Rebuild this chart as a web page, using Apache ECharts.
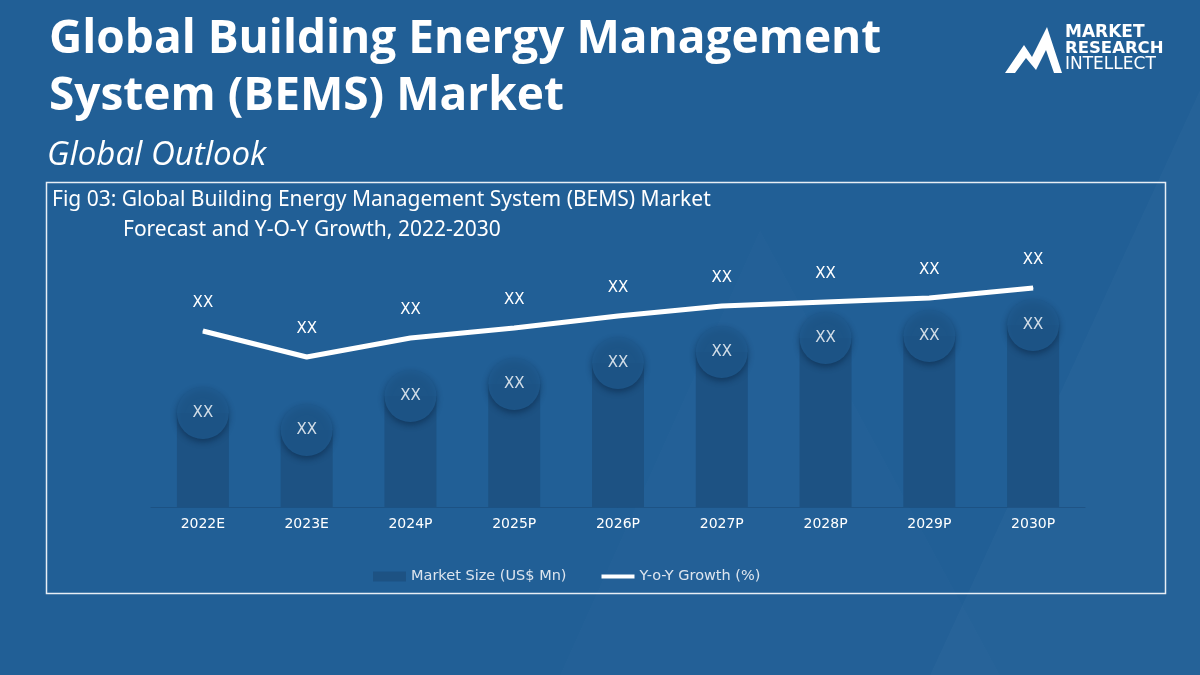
<!DOCTYPE html>
<html><head><meta charset="utf-8">
<script src="https://cdn.jsdelivr.net/npm/echarts@6/dist/echarts.min.js"></script>
<style>html,body{margin:0;padding:0;background:#215f96}#c{width:1200px;height:675px}</style>
</head><body><div id="c"></div>
<script>
var categories = ['2022E','2023E','2024P','2025P','2026P','2027P','2028P','2029P','2030P'];
var marketSize = [94, 77, 111, 123, 144, 155, 169, 171, 182];
var yoyGrowth = [176, 150, 169, 179, 191, 201, 205, 209, 219];
var valueLabels = ['XX','XX','XX','XX','XX','XX','XX','XX','XX'];
var growthLabels = ['XX','XX','XX','XX','XX','XX','XX','XX','XX'];

var chart = echarts.init(document.getElementById('c'));
var fontTitle = '"Open Sans", sans-serif';
var fontWide = '"DejaVu Sans", sans-serif';
chart.setOption({
  backgroundColor: '#215f96',
  animation: false,
  graphic: [
    {type:'polygon', silent:true, z:0, shape:{points:[[560,675],[760,230],[1000,675]]}, style:{fill:'rgba(255,255,255,0.012)'}},
    {type:'polygon', silent:true, z:0, shape:{points:[[930,675],[1200,90],[1200,675]]}, style:{fill:'rgba(255,255,255,0.02)'}},
    {type:'text', left:49, top:17, style:{text:'Global Building Energy Management', fill:'#fff', font:'bold 46px ' + fontTitle}},
    {type:'text', left:49, top:74, style:{text:'System (BEMS) Market', fill:'#fff', font:'bold 46px ' + fontTitle}},
    {type:'text', left:47, top:139, style:{text:'Global Outlook', fill:'#fff', font:'italic 33px ' + fontTitle}},
    {type:'rect', silent:true, shape:{x:46.5, y:182.5, width:1119, height:411}, style:{fill:'none', stroke:'#e8eef5', lineWidth:1.5}},
    {type:'text', left:52, top:190, style:{text:'Fig 03: Global Building Energy Management System (BEMS) Market', fill:'#fff', font:'21px "Noto Sans", sans-serif'}},
    {type:'text', left:123, top:220, style:{text:'Forecast and Y-O-Y Growth, 2022-2030', fill:'#fff', font:'21px "Noto Sans", sans-serif'}},
    {type:'polygon', silent:true, shape:{points:[[1005,73],[1024,45],[1032,57],[1047,27],[1062,73],[1054,73],[1046,50],[1036,70],[1026,58],[1015,73]]}, style:{fill:'#fff'}},
    {type:'text', left:1065, top:24, style:{text:'MARKET', fill:'#fff', font:'bold 17px ' + fontWide}},
    {type:'text', left:1065, top:40, style:{text:'RESEARCH', fill:'#fff', font:'bold 16.5px ' + fontWide}},
    {type:'text', left:1065, top:56, style:{text:'INTELLECT', fill:'#fff', font:'17px ' + fontWide}}
  ],
  grid: {left:151, width:934, top:257, height:250},
  legend: {
    left:368, top:564, itemGap:35, itemWidth:33, itemHeight:10,
    textStyle:{color:'#dde5ee', fontSize:14.5, fontFamily:fontWide},
    data:[{name:'Market Size (US$ Mn)', icon:'rect'}, {name:'Y-o-Y Growth (%)', icon:'path://M0,3 H33 V7 H0 Z', itemStyle:{color:'#fff'}}]
  },
  xAxis: {
    type:'category', data:categories,
    axisLine:{show:true, lineStyle:{color:'rgba(20,60,100,0.35)', width:1}}, axisTick:{show:false},
    axisLabel:{color:'#fff', fontSize:14, margin:10, fontFamily:fontWide}
  },
  yAxis: [
    {type:'value', min:0, max:250, show:false, splitLine:{show:false}},
    {type:'value', min:0, max:250, show:false, splitLine:{show:false}}
  ],
  series: [
    {name:'Market Size (US$ Mn)', type:'bar', data:marketSize, barWidth:52, itemStyle:{color:'#1d5283'}, z:2},
    {name:'circles', type:'scatter', data:marketSize, symbolSize:52, z:3,
     itemStyle:{color:'#1f5a8f', shadowBlur:6, shadowOffsetY:3, shadowColor:'rgba(5,25,50,0.55)'},
     label:{show:true, position:'inside', color:'#fff', fontSize:15, fontFamily:fontWide,
            formatter:function(p){return valueLabels[p.dataIndex];}}},
    {name:'Y-o-Y Growth (%)', type:'line', yAxisIndex:1, data:yoyGrowth, z:4,
     symbol:'circle', symbolSize:1, showSymbol:true, lineStyle:{color:'#fff', width:5}, itemStyle:{color:'#fff'},
     label:{show:true, position:'top', distance:20, color:'#fff', fontSize:15, fontFamily:fontWide,
            formatter:function(p){return growthLabels[p.dataIndex];}}}
  ]
});
</script></body></html>
